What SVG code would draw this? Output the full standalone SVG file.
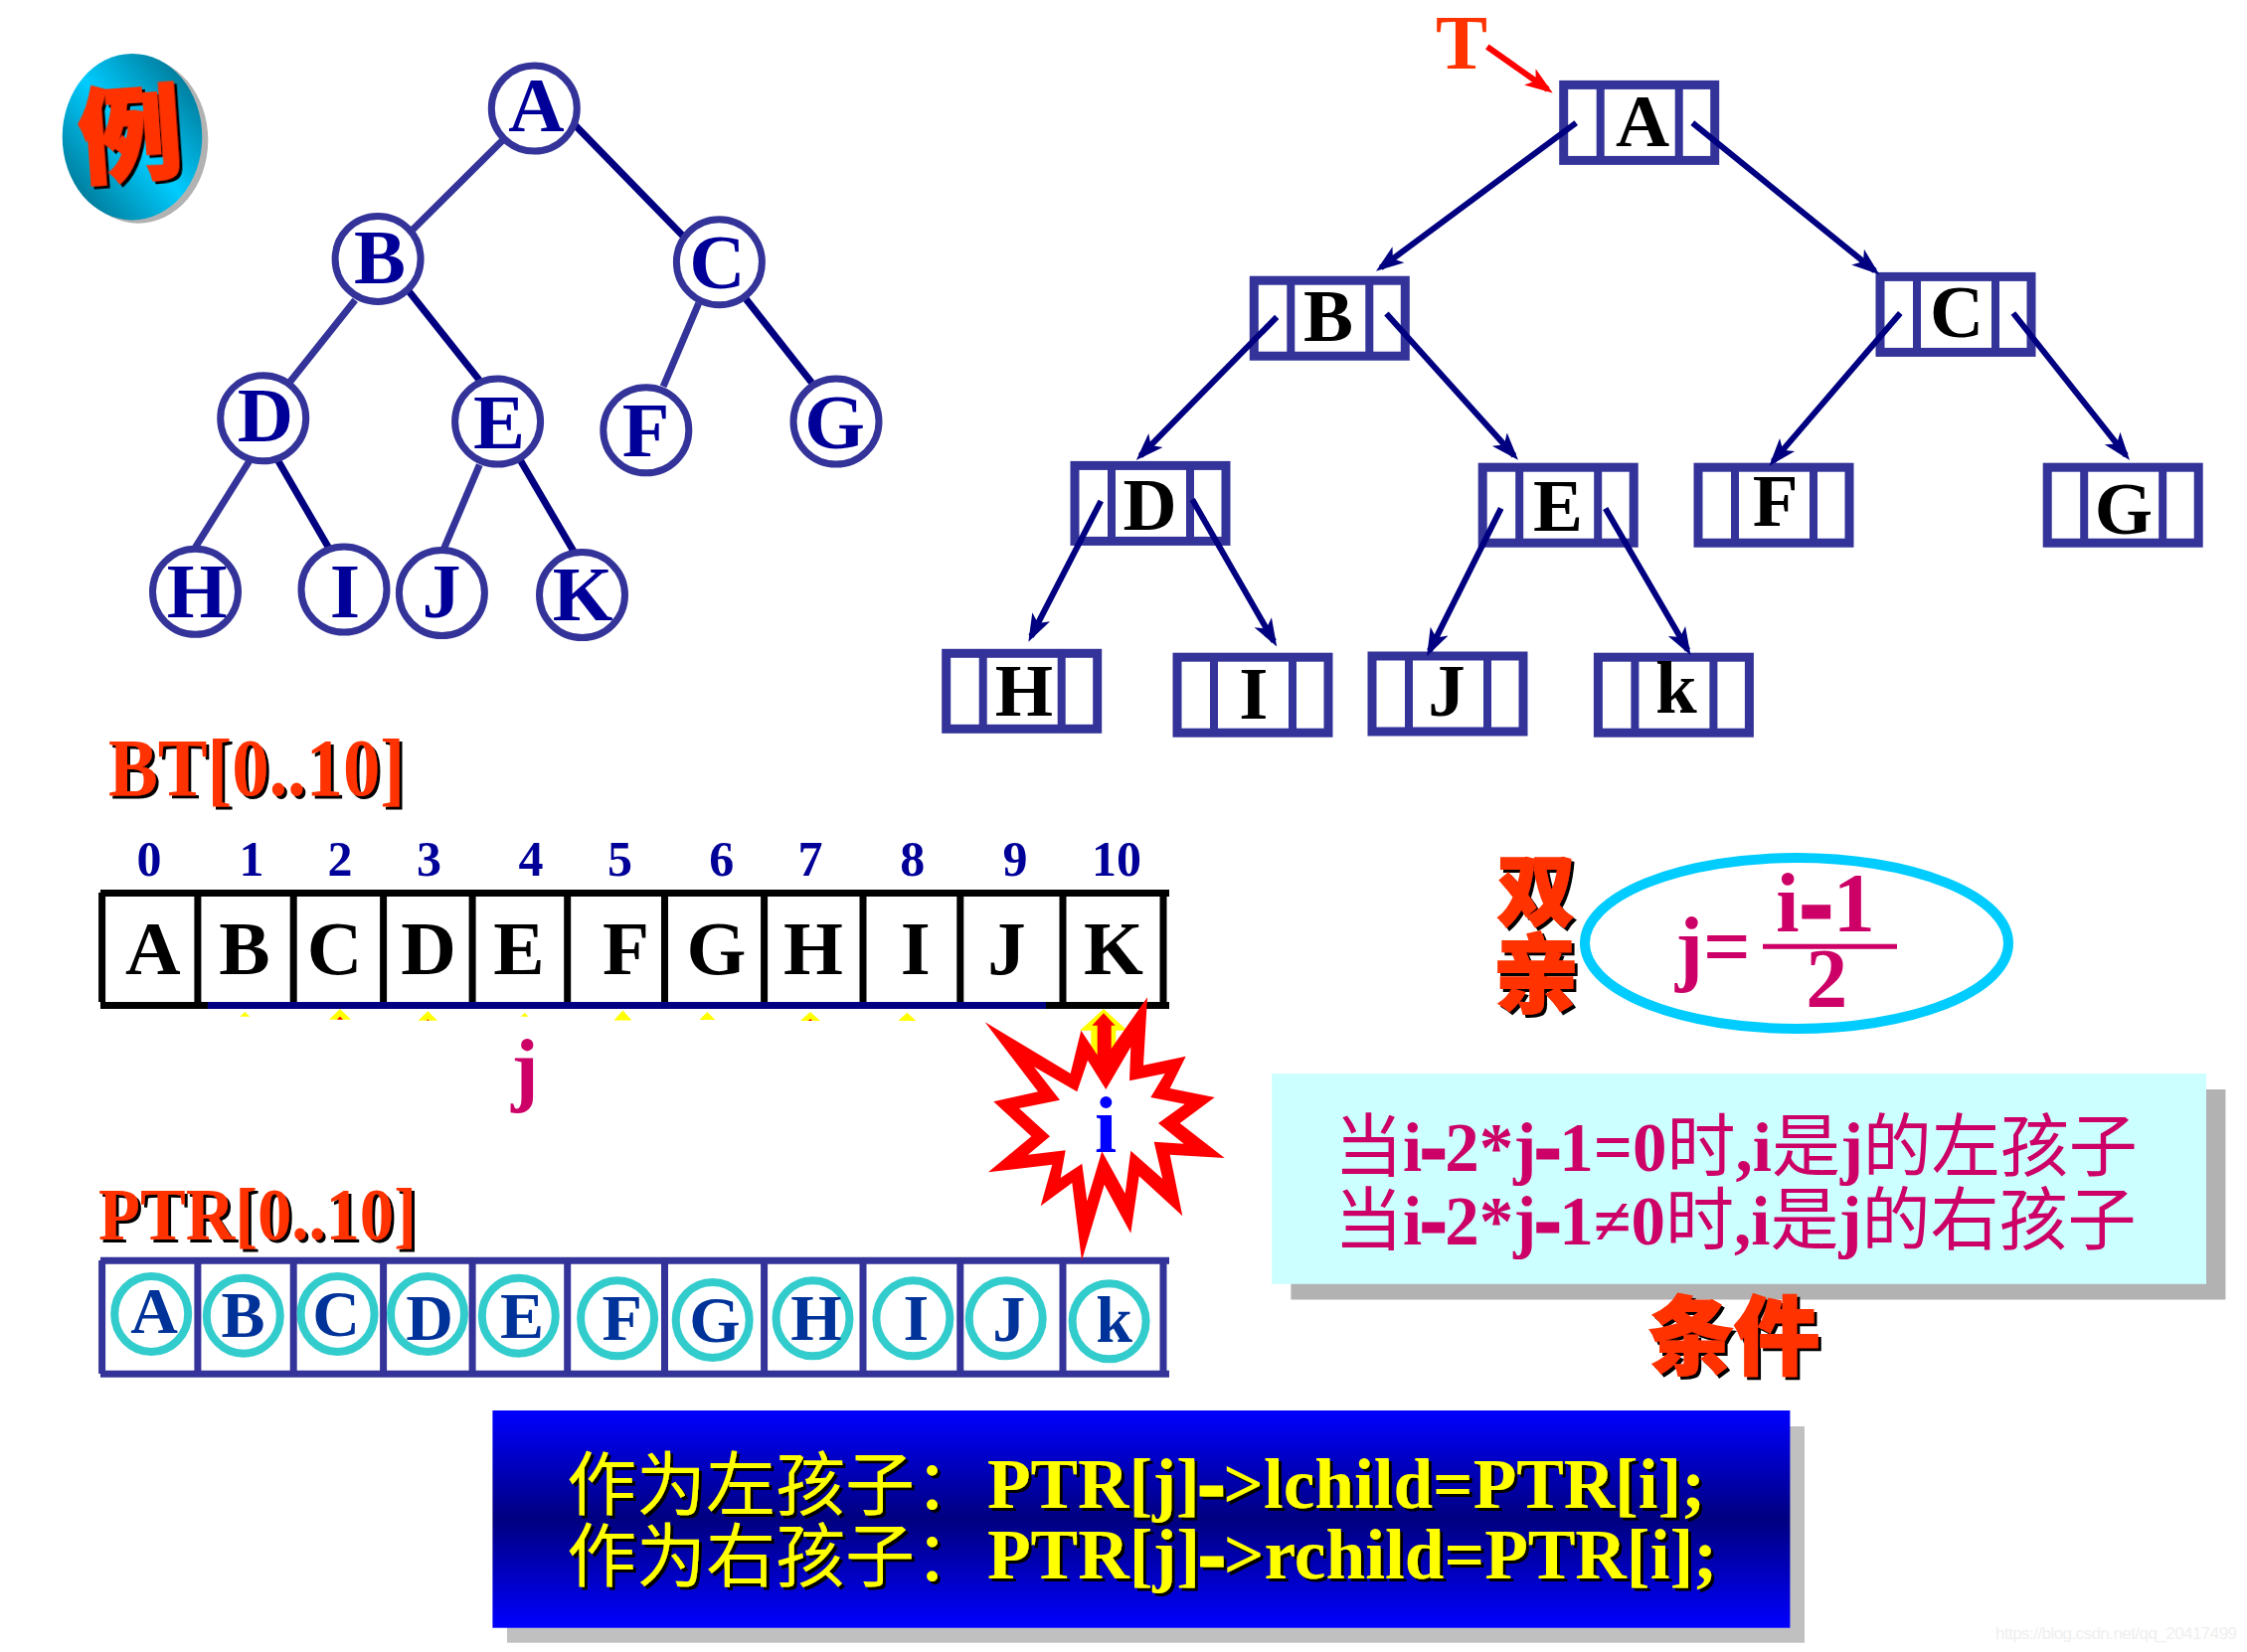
<svg xmlns="http://www.w3.org/2000/svg" width="2260" height="1662" viewBox="0 0 2260 1662">
<style>
text{font-family:"Liberation Serif","Noto Sans CJK SC",serif;font-weight:700;text-anchor:middle}
.tc{fill:#fff;stroke:#333399;stroke-width:7}
.tl{fill:#000099;font-size:78px}
.e1{stroke:#333399;stroke-width:7;fill:none}
.e2{stroke:#000080;stroke-width:7;fill:none}
.bx{fill:#fff;stroke:#333399;stroke-width:9}
.dv{stroke:#333399;stroke-width:8}
.bl{fill:#000;font-size:75px}
.ar{stroke:#000080;stroke-width:6;fill:none;marker-end:url(#ah)}
.num{fill:#000099;font-size:50px}
.al{fill:#000;font-size:77px}
.kd{stroke:#000;stroke-width:7}
.pd{stroke:#333399;stroke-width:7}
.pc{fill:#fff;stroke:#33cccc;stroke-width:8}
.pl{fill:#003399;font-size:66px}
.tt{fill:#ff3300;filter:url(#sh)}
.cjk{font-family:"Noto Sans CJK SC",sans-serif;font-weight:400}
.brush{font-family:"Noto Sans CJK SC",sans-serif;font-weight:900;fill:#ff3300;stroke:#ff3300;stroke-width:2;filter:url(#sh)}
.cond{fill:#cc0066;font-size:69px;text-anchor:start}
.code{fill:#ffff00;font-size:72px;text-anchor:start;filter:url(#sh)}
.code70{font-size:70px}
.hyc{stroke:#cc0066;stroke-width:5}
.hyf{stroke:#cc0066;stroke-width:7}
.hyy{stroke:#ffff00;stroke-width:5}
.tri{fill:#ffff00}
</style>
<defs>
<marker id="ah" markerUnits="userSpaceOnUse" markerWidth="34" markerHeight="26" refX="22" refY="12" orient="auto"><path d="M0,2 L28,12 L0,22 L7,12z" fill="#000080"/></marker>
<marker id="ahr" markerUnits="userSpaceOnUse" markerWidth="34" markerHeight="26" refX="22" refY="12" orient="auto"><path d="M0,2 L28,12 L0,22 L7,12z" fill="#ff0000"/></marker>
<filter id="sh" x="-10%" y="-10%" width="125%" height="125%"><feDropShadow dx="3" dy="3" stdDeviation="0" flood-color="#000"/></filter>
<linearGradient id="bg" x1="0" y1="1" x2="1" y2="0"><stop offset="0.12" stop-color="#007a99"/><stop offset="0.5" stop-color="#00ccff"/><stop offset="0.88" stop-color="#007a99"/></linearGradient>
<linearGradient id="cg" x1="0" y1="0" x2="0" y2="1"><stop offset="0" stop-color="#0000ff"/><stop offset="0.5" stop-color="#000080"/><stop offset="1" stop-color="#0000ff"/></linearGradient>
<g id="cell"><rect class="bx" x="4" y="4" width="152" height="76"/><line class="dv" x1="41" y1="4" x2="41" y2="80"/><line class="dv" x1="120" y1="4" x2="120" y2="80"/></g>
</defs>
<rect width="2260" height="1662" fill="#fff"/>

<g id="badge">
<ellipse cx="139" cy="141" rx="70.3" ry="83.7" fill="#b2b2b2"/>
<ellipse cx="133" cy="137.7" rx="70.3" ry="83.7" fill="url(#bg)"/>
<text class="brush" x="131" y="174" font-size="104" transform="rotate(-4 131 137)">例</text>
</g>

<g id="tree-edges">
<line class="e1" x1="506.4" y1="140.2" x2="414.6" y2="231.4"/>
<line class="e2" x1="578.2" y1="125.7" x2="687.2" y2="237.6"/>
<line class="e1" x1="357.2" y1="301.9" x2="291.2" y2="384.8"/>
<line class="e2" x1="410" y1="291.5" x2="482.3" y2="382.7"/>
<line class="e1" x1="702.7" y1="305.2" x2="667.1" y2="388.9"/>
<line class="e2" x1="750.4" y1="301" x2="816.4" y2="384.8"/>
<line class="e1" x1="251" y1="463.5" x2="196.5" y2="550.6"/>
<line class="e2" x1="279.7" y1="463.5" x2="331.4" y2="552.6"/>
<line class="e1" x1="482.3" y1="467.7" x2="446.2" y2="552.6"/>
<line class="e2" x1="523.6" y1="463.5" x2="578.2" y2="556.8"/>
</g>
<g id="tree-A"><ellipse class="tc" cx="537.3" cy="109.1" rx="43" ry="43"/><text class="tl" x="539.5" y="132">A</text></g>
<g id="tree-B"><ellipse class="tc" cx="380.1" cy="260.4" rx="43" ry="43"/><text class="tl" x="382" y="285">B</text></g>
<g id="tree-C"><ellipse class="tc" cx="723.4" cy="263.7" rx="43" ry="43"/><text class="tl" x="721.5" y="289.5">C</text></g>
<g id="tree-D"><ellipse class="tc" cx="264.7" cy="420.8" rx="43" ry="43"/><text class="tl" x="267" y="443.6">D</text></g>
<g id="tree-E"><ellipse class="tc" cx="500.6" cy="424.1" rx="43" ry="43"/><text class="tl" x="502" y="451">E</text></g>
<g id="tree-F"><ellipse class="tc" cx="649.8" cy="432.8" rx="43" ry="43"/><text class="tl" x="649.5" y="459">F</text></g>
<g id="tree-G"><ellipse class="tc" cx="841" cy="424.1" rx="43" ry="43"/><text class="tl" x="839.5" y="451">G</text></g>
<g id="tree-H"><ellipse class="tc" cx="196.5" cy="595.3" rx="43" ry="43"/><text class="tl" x="198" y="621">H</text></g>
<g id="tree-I"><ellipse class="tc" cx="346" cy="593" rx="43" ry="43"/><text class="tl" x="347" y="621">I</text></g>
<g id="tree-J"><ellipse class="tc" cx="444.4" cy="596.6" rx="43" ry="43"/><text class="tl" x="444" y="621">J</text></g>
<g id="tree-K"><ellipse class="tc" cx="585.5" cy="598.6" rx="43" ry="43"/><text class="tl" x="586" y="623.5">K</text></g>

<g id="link-A"><use href="#cell" x="1568.7" y="81.4"/><text class="bl" x="1652" y="147.4">A</text></g>
<g id="link-B"><use href="#cell" x="1257.3" y="278.2"/><text class="bl" x="1336" y="343.2">B</text></g>
<g id="link-C"><use href="#cell" x="1887" y="274.4"/><text class="bl" x="1968" y="339.3">C</text></g>
<g id="link-D"><use href="#cell" x="1077" y="464.4"/><text class="bl" x="1156.5" y="533.2">D</text></g>
<g id="link-E"><use href="#cell" x="1487.2" y="466.2"/><text class="bl" x="1567" y="534.2">E</text></g>
<g id="link-F"><use href="#cell" x="1704" y="466.2"/><text class="bl" x="1785.7" y="529.3">F</text></g>
<g id="link-G"><use href="#cell" x="2055.2" y="466.2"/><text class="bl" x="2135.9" y="536.6">G</text></g>
<g id="link-H"><use href="#cell" x="947.7" y="653.3"/><text class="bl" x="1030" y="719.8">H</text></g>
<g id="link-I"><use href="#cell" x="1180" y="657.2"/><text class="bl" x="1260.8" y="723.2">I</text></g>
<g id="link-J"><use href="#cell" x="1376" y="656"/><text class="bl" x="1455" y="719.8">J</text></g>
<g id="link-k"><use href="#cell" x="1603.4" y="657.2"/><text class="bl" x="1685.8" y="717.4">k</text></g>
<g id="label-T"><text x="1470" y="69" font-size="78" fill="#ff3300">T</text></g>

<g id="connectors">
<line x1="1495.8" y1="47" x2="1556.8" y2="90" stroke="#ff0000" stroke-width="6" marker-end="url(#ahr)"/>
<line class="ar" x1="1585.2" y1="123.6" x2="1388.8" y2="269.3"/>
<line class="ar" x1="1702.3" y1="123.6" x2="1885.7" y2="272.5"/>
<line class="ar" x1="1284.2" y1="318.9" x2="1147" y2="458.6"/>
<line class="ar" x1="1394.4" y1="315.5" x2="1523" y2="458.4"/>
<line class="ar" x1="1911.3" y1="315" x2="1783.3" y2="464.1"/>
<line class="ar" x1="2024.9" y1="315" x2="2138.3" y2="458.2"/>
<line class="ar" x1="1107.3" y1="504" x2="1037.1" y2="640.3"/>
<line class="ar" x1="1199.2" y1="502.6" x2="1281.2" y2="645.3"/>
<line class="ar" x1="1509.7" y1="511.4" x2="1437.8" y2="654.8"/>
<line class="ar" x1="1614.7" y1="511.4" x2="1697.5" y2="654"/>
</g>

<g id="bt-title"><text class="tt" x="258" y="800" font-size="82" textLength="298" lengthAdjust="spacingAndGlyphs">BT[0..10]</text></g>
<g id="bt-index">
<text class="num" x="150" y="881">0</text><text class="num" x="253" y="881">1</text><text class="num" x="342" y="881">2</text><text class="num" x="431.5" y="881">3</text><text class="num" x="534" y="881">4</text><text class="num" x="623.4" y="881">5</text><text class="num" x="725.7" y="881">6</text><text class="num" x="815" y="881">7</text><text class="num" x="917.7" y="881">8</text><text class="num" x="1021" y="881">9</text><text class="num" x="1123" y="881">10</text>
</g>
<g id="bt-array">
<rect x="101" y="898" width="1075" height="114" fill="#fff"/>
<line x1="101" y1="898.5" x2="1176" y2="898.5" stroke="#000" stroke-width="7"/>
<line x1="101" y1="1011.5" x2="209" y2="1011.5" stroke="#000" stroke-width="7"/>
<line x1="209" y1="1011.5" x2="1052" y2="1011.5" stroke="#000080" stroke-width="7"/>
<line x1="1052" y1="1011.5" x2="1176" y2="1011.5" stroke="#000" stroke-width="7"/>
<path class="kd" d="M102.6,898V1008M198.9,898V1008M295.2,898V1008M385.6,898V1008M475.1,898V1008M570.7,898V1008M668.5,898V1008M768.6,898V1008M868,898V1008M965.8,898V1008M1069,898V1008M1170,898V1008"/>
<text class="al" x="153.7" y="980.4">A</text><text class="al" x="246" y="980.4">B</text><text class="al" x="336.6" y="980.4">C</text><text class="al" x="431" y="980.4">D</text><text class="al" x="522" y="980.4">E</text><text class="al" x="629.5" y="980.4">F</text><text class="al" x="720.5" y="980.4">G</text><text class="al" x="818" y="980.4">H</text><text class="al" x="920.7" y="980.4">I</text><text class="al" x="1012.5" y="980.4">J</text><text class="al" x="1120" y="980.4">K</text>
</g>
<g id="markers">
<polygon class="tri" points="246.3,1018 251.3,1022.7 241.3,1022.7"/>
<polygon class="tri" points="342,1015 353,1025.7 331,1025.7"/><polygon fill="#f00" points="342,1022.7 345,1025.7 339,1025.7"/>
<polygon class="tri" points="430.3,1017.3 440,1026.7 420.6,1026.7"/><polygon fill="#f00" points="430.3,1025.3 431.6,1026.7 429,1026.7"/>
<polygon class="tri" points="527.7,1019 531.7,1022.7 523.7,1022.7"/>
<polygon class="tri" points="626.4,1016.5 635.4,1026.5 617.4,1026.5"/>
<polygon class="tri" points="711.4,1018 719.4,1026 703.4,1026"/>
<polygon class="tri" points="815,1018 825,1027 805,1027"/><polygon fill="#f00" points="815,1025 817,1027 813,1027"/>
<polygon class="tri" points="912.4,1018.7 921.4,1027 903.4,1027"/>
<polygon class="tri" points="1110,1015 1134,1036.7 1122.3,1036.7 1122.3,1095 1097.3,1095 1097.3,1036.7 1086,1036.7"/>
<polygon fill="#f00" points="1110,1019.3 1121.7,1031.7 1117.7,1031.7 1117.7,1089 1103.7,1089 1103.7,1031.7 1098.3,1031.7"/>
</g>
<g id="label-j"><text x="528" y="1102" font-size="82" fill="#cc0066">j</text></g>

<g id="ptr-title"><text class="tt" x="259" y="1247" font-size="75" textLength="320" lengthAdjust="spacingAndGlyphs">PTR[0..10]</text></g>
<g id="ptr-array">
<line x1="101" y1="1268.3" x2="1176" y2="1268.3" stroke="#333399" stroke-width="7"/>
<line x1="101" y1="1382.3" x2="1176" y2="1382.3" stroke="#333399" stroke-width="7"/>
<path class="pd" d="M102.6,1268V1382M198.9,1268V1382M295.2,1268V1382M385.6,1268V1382M475.1,1268V1382M570.7,1268V1382M668.5,1268V1382M768.6,1268V1382M868,1268V1382M965.8,1268V1382M1069,1268V1382M1170,1268V1382"/>
<ellipse class="pc" cx="152.2" cy="1322" rx="37" ry="38"/><text class="pl" x="155" y="1341">A</text>
<ellipse class="pc" cx="244.8" cy="1323.7" rx="37" ry="38"/><text class="pl" x="244.5" y="1344.5">B</text>
<ellipse class="pc" cx="339.6" cy="1322" rx="37" ry="38"/><text class="pl" x="338" y="1343.7">C</text>
<ellipse class="pc" cx="430" cy="1322" rx="37" ry="38"/><text class="pl" x="432" y="1348">D</text>
<ellipse class="pc" cx="521.8" cy="1323.7" rx="37" ry="38"/><text class="pl" x="525" y="1345.8">E</text>
<ellipse class="pc" cx="621.1" cy="1326.3" rx="37" ry="38"/><text class="pl" x="625.6" y="1348">F</text>
<ellipse class="pc" cx="716.7" cy="1328" rx="37" ry="38"/><text class="pl" x="719" y="1349.7">G</text>
<ellipse class="pc" cx="817.5" cy="1326.3" rx="37" ry="38"/><text class="pl" x="821" y="1348">H</text>
<ellipse class="pc" cx="918.4" cy="1326.3" rx="37" ry="38"/><text class="pl" x="921.4" y="1348">I</text>
<ellipse class="pc" cx="1011.7" cy="1326.3" rx="37" ry="38"/><text class="pl" x="1014.7" y="1348.9">J</text>
<ellipse class="pc" cx="1115.6" cy="1329.3" rx="37" ry="38"/><text class="pl" x="1120.5" y="1350">k</text>
</g>

<g id="burst">
<polygon fill="#ff0000" points="1154,1003.3 1150,1071.7 1192.7,1062.7 1176.7,1095 1221.7,1104 1186.7,1130 1231.7,1165 1176.7,1161.7 1189.3,1223.3 1145.7,1183.3 1137.3,1240.7 1110.7,1191.7 1088,1268.3 1078.3,1190 1046.7,1213.3 1058.3,1171.7 994,1179.3 1037.3,1143.3 999.3,1108.3 1044,1098.3 990.7,1028.3 1076.7,1080 1087.3,1036.7 1108.3,1068.3"/>
<polygon fill="#ffffff" points="1137.3,1053.3 1136,1087.3 1171.7,1080 1157.3,1104 1191.7,1110.7 1165,1130 1190.7,1150.7 1160.7,1148.7 1169.3,1186 1137.3,1157.7 1131.7,1200.7 1108.3,1158.3 1093.3,1208.3 1088.3,1170.7 1066.7,1185 1071.7,1157.3 1034,1161.7 1056,1143.3 1025,1115 1066,1106.7 1040,1073.3 1083.3,1098.3 1094,1066.7 1112.3,1096"/>
<text x="1112" y="1159" font-size="80" fill="#0000ff">i</text>
</g>

<g id="parent-label">
<text class="brush" x="1545" y="925" font-size="78">双</text>
<text class="brush" x="1545" y="1012" font-size="86">亲</text>
</g>
<g id="formula">
<ellipse cx="1807" cy="949" rx="213" ry="86" fill="none" stroke="#00ccff" stroke-width="10"/>
<text x="1685" y="981" font-size="84" fill="#cc0066" style="text-anchor:start">j=</text>
<text x="1836" y="937.3" font-size="84" fill="#cc0066">i<tspan class="hyf" dx="3">-</tspan><tspan dx="3">1</tspan></text>
<line x1="1773" y1="952.3" x2="1908" y2="952.3" stroke="#cc0066" stroke-width="5"/>
<text x="1837.3" y="1012.7" font-size="84" fill="#cc0066">2</text>
</g>

<g id="condition">
<rect x="1298.4" y="1096" width="940" height="211.5" fill="#b2b2b2"/>
<rect x="1279.2" y="1080" width="939.8" height="211.8" fill="#ccffff"/>
<text class="cond" x="1342" y="1178"><tspan class="cjk">当</tspan>i<tspan class="hyc">-</tspan>2*j<tspan class="hyc">-</tspan>1=0<tspan class="cjk">时</tspan>,i<tspan class="cjk">是</tspan>j<tspan class="cjk">的左孩子</tspan></text>
<text class="cond" x="1342" y="1252"><tspan class="cjk">当</tspan>i<tspan class="hyc">-</tspan>2*j<tspan class="hyc">-</tspan>1≠0<tspan class="cjk">时</tspan>,i<tspan class="cjk">是</tspan>j<tspan class="cjk">的右孩子</tspan></text>
</g>
<g id="condition-label"><text class="brush" x="1744" y="1376" font-size="86">条件</text></g>

<g id="code">
<rect x="510" y="1435" width="1305" height="217.7" fill="#c0c0c0"/>
<rect x="495.4" y="1419" width="1305" height="218.7" fill="url(#cg)"/>
<text class="code code70" x="570" y="1519"><tspan class="cjk">作为左孩子：</tspan></text>
<text class="code" x="993" y="1516.7" textLength="722" lengthAdjust="spacingAndGlyphs">PTR[j]<tspan class="hyy">-</tspan>&gt;lchild=PTR[i];</text>
<text class="code code70" x="570" y="1590.5"><tspan class="cjk">作为右孩子：</tspan></text>
<text class="code" x="993" y="1588" textLength="734" lengthAdjust="spacingAndGlyphs">PTR[j]<tspan class="hyy">-</tspan>&gt;rchild=PTR[i];</text>
</g>
<g id="watermark"><text x="2007" y="1649" style="font-family:'Liberation Sans',sans-serif;font-weight:400;text-anchor:start" font-size="17" fill="#efefef" textLength="243">https://blog.csdn.net/qq_20417499</text></g>
</svg>
